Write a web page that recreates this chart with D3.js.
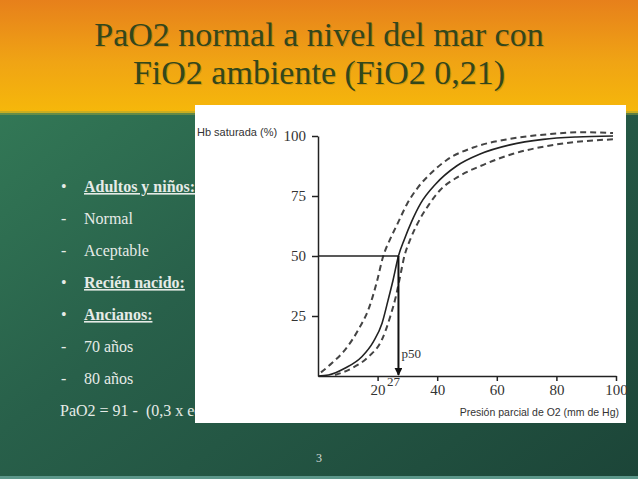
<!DOCTYPE html>
<html>
<head>
<meta charset="utf-8">
<script src="https://cdn.jsdelivr.net/npm/d3@7"></script>
<style>
  body { margin: 0; background: #1f4a3a; }
  svg { display: block; }
  .axis path, .axis line { stroke: #222; stroke-width: 1.5; }
  .axis text { fill: #333; font-family: "Liberation Serif", serif; font-size: 15px; }
  .serif { font-family: "Liberation Serif", serif; white-space: pre; }
  .sans { font-family: "Liberation Sans", Arial, sans-serif; }
</style>
</head>
<body>
<script>
// slide text
var titleLines = ["PaO2 normal a nivel del mar con", "FiO2 ambiente (FiO2 0,21)"];
var bulletMarks = ["•", "-", "-", "•", "•", "-", "-"];
var bulletTexts = ["Adultos y niños:", "Normal", "Aceptable", "Recién nacido:", "Ancianos:", "70 años", "80 años"];
var bulletHeads = [true, false, false, true, true, false, false];
var formulaText = "PaO2 = 91 -  (0,3 x edad)";
var pageNumber = "3";

// chart values, [PaO2 mm Hg, % Hb saturada]
var curveNormal = [[0,0],[3.5,0.4],[9,3.2],[14.7,8],[18.6,14.3],[21.5,22],[23.5,31.5],[25.2,40],[27,50],
  [29,57],[31.3,64],[34.5,72],[39.5,80],[46.5,87.5],[54.4,92.5],[64.4,96.3],[75.6,98.6],[86.8,99.6],[99,100]];
var curveLeft = [[1,1.5],[4.6,5.3],[9,10.8],[13.5,19.2],[17.3,29],[19.7,39],[21.9,50],[24.2,57],[26.9,64],
  [29.8,71.5],[33.5,78.5],[37.5,84],[43.2,90],[52.1,95.2],[64.4,98.8],[77.9,100.8],[89,101.6],[99,101.2]];
var curveRight = [[5.7,0.4],[11.3,3.2],[16.9,8],[21.4,15],[24.3,25],[26.2,33.5],[27.4,40.5],[29,50],[31,57],
  [33.6,64],[37,71],[41,77.5],[47,83],[55.5,88],[65.5,92.6],[76.7,95.8],[87.9,97.7],[99,98.6]];
var p50 = 27, satHalf = 50;
var xTicks = [20, 40, 60, 80, 100];
var yTicks = [25, 50, 75, 100];
var yLabel = "Hb saturada (%)";
var xLabel = "Presión parcial de O2 (mm de Hg)";

var w = 638, h = 479;
var svg = d3.select("body").append("svg")
  .attr("width", w)
  .attr("height", h);

var defs = svg.append("defs");
var gTop = defs.append("linearGradient").attr("id", "gTop")
  .attr("x1", 0).attr("y1", 0).attr("x2", 0).attr("y2", 1);
gTop.append("stop").attr("offset", "0%").attr("stop-color", "#e7801b");
gTop.append("stop").attr("offset", "55%").attr("stop-color", "#f0a414");
gTop.append("stop").attr("offset", "100%").attr("stop-color", "#f6b80a");
var gGreen = defs.append("linearGradient").attr("id", "gGreen")
  .attr("x1", 0).attr("y1", 0).attr("x2", 1).attr("y2", 1);
gGreen.append("stop").attr("offset", "0%").attr("stop-color", "#36805a");
gGreen.append("stop").attr("offset", "45%").attr("stop-color", "#28604a");
gGreen.append("stop").attr("offset", "100%").attr("stop-color", "#1c4538");
defs.append("marker").attr("id", "arrow")
  .attr("viewBox", "0 0 10 10").attr("refX", 9).attr("refY", 5)
  .attr("markerWidth", 4).attr("markerHeight", 4).attr("orient", "auto")
  .append("path").attr("d", "M0,0 L10,5 L0,10 Z").attr("fill", "#111");

// background
svg.append("rect").attr("width", w).attr("height", h).attr("fill", "url(#gGreen)");
svg.append("rect").attr("width", w).attr("height", 113).attr("fill", "url(#gTop)");
svg.append("rect").attr("y", 111).attr("width", w).attr("height", 4).attr("fill", "#9aa43a").attr("opacity", 0.5);
svg.append("rect").attr("y", 476).attr("width", w).attr("height", 3).attr("fill", "#5c978a");

// title
titleLines.forEach(function(t, i) {
  svg.append("text")
    .attr("class", "serif")
    .attr("x", w / 2 + 1.2).attr("y", 46 + i * 38 + 1.2)
    .attr("text-anchor", "middle")
    .style("font-size", "34px")
    .attr("fill", "rgba(0,0,0,0.14)")
    .text(t);
  svg.append("text")
    .attr("class", "serif")
    .attr("x", w / 2).attr("y", 46 + i * 38)
    .attr("text-anchor", "middle")
    .style("font-size", "34px")
    .attr("fill", "#33471b")
    .text(t);
});

// left bullet list
var rowY = d3.scaleLinear().domain([0, 7]).range([192, 416]);
bulletTexts.forEach(function(t, i) {
  svg.append("text")
    .attr("class", "serif")
    .attr("x", 61).attr("y", rowY(i))
    .style("font-size", "16px")
    .attr("fill", "#e6ebe7")
    .text(bulletMarks[i]);
  svg.append("text")
    .attr("class", "serif")
    .attr("x", 84).attr("y", rowY(i))
    .style("font-size", "16px")
    .style("font-weight", bulletHeads[i] ? "bold" : "normal")
    .style("text-decoration", bulletHeads[i] ? "underline" : "none")
    .attr("fill", "#e6ebe7")
    .text(t);
});
svg.append("text")
  .attr("class", "serif")
  .attr("x", 60).attr("y", rowY(7))
  .style("font-size", "16px")
  .attr("fill", "#e6ebe7")
  .text(formulaText);

svg.append("text")
  .attr("class", "serif")
  .attr("x", w / 2).attr("y", 462)
  .attr("text-anchor", "middle")
  .style("font-size", "12px")
  .attr("fill", "#d8ddd9")
  .text(pageNumber);

// chart panel
svg.append("rect")
  .attr("x", 195).attr("y", 105)
  .attr("width", 431).attr("height", 318)
  .attr("fill", "#fff");

var x = d3.scaleLinear().domain([0, 100]).range([318, 616]);
var y = d3.scaleLinear().domain([0, 100]).range([376, 136]);

var yAxisG = svg.append("g")
  .attr("class", "axis")
  .attr("transform", "translate(" + x(0) + ",0)")
  .call(d3.axisLeft(y).tickValues(yTicks).tickSize(6).tickSizeOuter(0).tickPadding(6));
var xAxisG = svg.append("g")
  .attr("class", "axis")
  .attr("transform", "translate(0," + y(0) + ")")
  .call(d3.axisBottom(x).tickValues(xTicks).tickSize(5).tickSizeOuter(0).tickPadding(3));
[yAxisG, xAxisG].forEach(function(g) {
  g.attr("font-family", null).attr("font-size", null);
  g.selectAll("text")
    .style("font-family", "'Liberation Serif', serif")
    .style("font-size", "15px")
    .attr("fill", "#333");
});

// curves
var line = d3.line()
  .x(function(d) { return x(d[0]); })
  .y(function(d) { return y(d[1]); })
  .curve(d3.curveMonotoneX);

svg.append("path").datum(curveLeft)
  .attr("d", line).attr("fill", "none")
  .attr("stroke", "#444").attr("stroke-width", 2).attr("stroke-dasharray", "6,4");
svg.append("path").datum(curveRight)
  .attr("d", line).attr("fill", "none")
  .attr("stroke", "#444").attr("stroke-width", 2).attr("stroke-dasharray", "6,4");
svg.append("path").datum(curveNormal)
  .attr("d", line).attr("fill", "none")
  .attr("stroke", "#222").attr("stroke-width", 1.6);

// p50 guide lines
svg.append("line")
  .attr("x1", x(0)).attr("x2", x(p50))
  .attr("y1", y(satHalf)).attr("y2", y(satHalf))
  .attr("stroke", "#222").attr("stroke-width", 1.3);
svg.append("line")
  .attr("x1", x(p50)).attr("x2", x(p50))
  .attr("y1", y(satHalf)).attr("y2", y(0) - 1)
  .attr("stroke", "#111").attr("stroke-width", 2)
  .attr("marker-end", "url(#arrow)");

svg.append("text")
  .attr("class", "serif")
  .attr("x", x(p50) + 3).attr("y", 358)
  .style("font-size", "13px")
  .attr("fill", "#333")
  .text("p50");
svg.append("text")
  .attr("class", "serif")
  .attr("x", x(p50) - 5).attr("y", 386)
  .attr("text-anchor", "middle")
  .style("font-size", "13px")
  .attr("fill", "#333")
  .text(p50);

// axis titles
svg.append("text")
  .attr("class", "sans")
  .attr("x", 197).attr("y", 136)
  .style("font-size", "11px")
  .attr("fill", "#333")
  .text(yLabel);
svg.append("text")
  .attr("class", "sans")
  .attr("x", 619).attr("y", 416)
  .attr("text-anchor", "end")
  .style("font-size", "10.5px")
  .attr("fill", "#333")
  .text(xLabel);
</script>
</body>
</html>
